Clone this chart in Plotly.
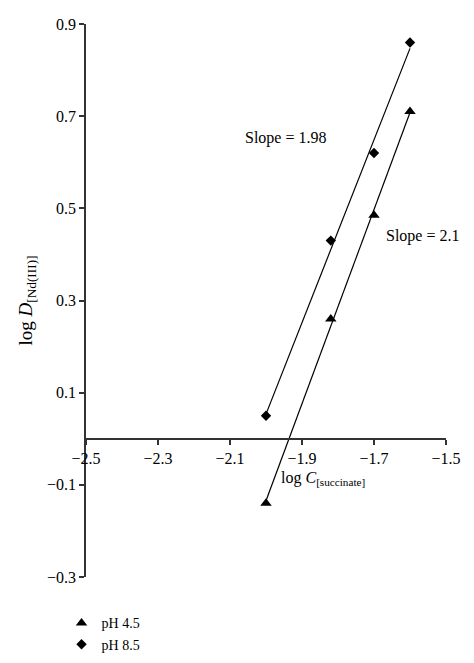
import numpy as np
import plotly.graph_objects as go

# log C[succinate]
log_c = [-2.0, -1.82, -1.70, -1.60]
# log D[Nd(III)]
ph45 = [-0.14, 0.26, 0.485, 0.71]
ph85 = [0.05, 0.43, 0.62, 0.86]

x_ticks = [-2.5, -2.3, -2.1, -1.9, -1.7, -1.5]
y_ticks = [-0.3, -0.1, 0.1, 0.3, 0.5, 0.7, 0.9]

font = "Liberation Serif"
axis_color = "#333333"

fig = go.Figure()

# fitted lines through each series
for ys in (ph45, ph85):
    k, b = np.polyfit(log_c, ys, 1)
    xs = np.array([min(log_c), max(log_c)])
    fig.add_trace(go.Scatter(
        x=xs, y=k * xs + b, mode="lines",
        line=dict(color="black", width=1.2),
        showlegend=False, hoverinfo="skip"
    ))

fig.add_trace(go.Scatter(
    x=log_c, y=ph45, mode="markers", name="pH 4.5",
    marker=dict(symbol="triangle-up", size=10, color="black")
))
fig.add_trace(go.Scatter(
    x=log_c, y=ph85, mode="markers", name="pH 8.5",
    marker=dict(symbol="diamond", size=8, color="black")
))

fig.add_annotation(x=-2.064, y=0.653, text="Slope = 1.98", showarrow=False,
                   xanchor="left", yanchor="middle")
fig.add_annotation(x=-1.672, y=0.441, text="Slope = 2.1", showarrow=False,
                   xanchor="left", yanchor="middle")
fig.add_annotation(x=-1.842, y=-0.086, text="log <i>C</i><sub>[succinate]</sub>",
                   showarrow=False, xanchor="center", yanchor="middle")

fig.update_xaxes(
    range=[-2.5, -1.5], tickvals=x_ticks, tickformat=".1f",
    anchor="free", position=0.25,
    showline=True, linecolor=axis_color, linewidth=1.5,
    ticks="outside", ticklen=5, tickcolor=axis_color, tickwidth=1.5,
    showgrid=False, zeroline=False, fixedrange=True, automargin=False
)
fig.update_yaxes(
    range=[-0.3, 0.9], tickvals=y_ticks, tickformat=".1f",
    showline=True, linecolor=axis_color, linewidth=1.5,
    ticks="outside", ticklen=5, tickcolor=axis_color, tickwidth=1.5,
    showgrid=False, zeroline=False, fixedrange=True, automargin=False,
    title=dict(text="log <i>D</i><sub>[Nd(III)]</sub>", standoff=9)
)

# the page body adds an 8px margin, so the figure is 8px smaller
fig.update_layout(
    width=466, height=655,
    margin=dict(l=78, r=28, t=16, b=86, autoexpand=False),
    paper_bgcolor="white", plot_bgcolor="white",
    font=dict(family=font, size=16, color="black"),
    legend=dict(x=-0.068, y=-0.055, xanchor="left", yanchor="top",
                font=dict(size=14), tracegroupgap=0, itemwidth=30),
)

fig.write_html("out.html")
